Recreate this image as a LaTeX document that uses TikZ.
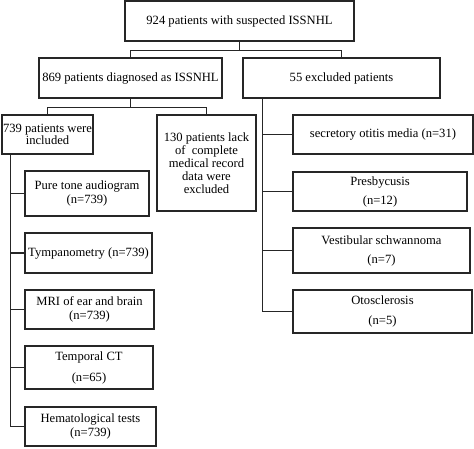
\documentclass[tikz,border=0pt]{standalone}
\usepackage{fontspec}
\setmainfont{Liberation Serif}
\usetikzlibrary{positioning}
\tikzset{
	font = {\fontsize{12.6pt}{14pt}\selectfont},
	box/.style = {rectangle, draw = black!85, line width = 1.4pt, text centered, align = center, inner sep = 1pt},
	line/.style = {draw = black!85, line width = 1.3pt}
}

\begin{document}
\begin{tikzpicture}[x = 1pt, y = -1pt]
	\useasboundingbox (0,0) rectangle (474,448);
	
	%%%%%%%% top part %%%%%%%%
	\node (suspected) [box, minimum width = 229pt, minimum height = 40pt] at (239.5,21) {924 patients with suspected ISSNHL};
	\node (diagnosed) [box, minimum width = 183pt, minimum height = 40pt] at (130.5,78) {869 patients diagnosed as ISSNHL};
	\node (excluded) [box, minimum width = 197pt, minimum height = 40pt] at (341.5,78) {55 excluded patients};
	
	%% diagnosed branch
	\node (included) [box, minimum width = 91pt, minimum height = 39pt] at (47.5,134.5) {739 patients were\\[-2pt] included};
	\node (lack) [box, minimum width = 99pt, minimum height = 96pt] at (206.5,163) {130 patients lack\\[-1pt] of\ \ complete\\[-1pt] medical record\\[-1pt] data were\\[-1pt] excluded};
	% examinations
	\node (puretone) [box, minimum width = 124pt, minimum height = 45pt] at (87,193.5) {Pure tone audiogram\\ (n=739)};
	\node (tympano) [box, minimum width = 127pt, minimum height = 40pt] at (88.5,253) {Tympanometry (n=739)};
	\node (mri) [box, minimum width = 129pt, minimum height = 39pt] at (89.5,309.5) {MRI of ear and brain\\ (n=739)};
	\node (ct) [box, minimum width = 128pt, minimum height = 43pt] at (89,367.5) {Temporal CT\\[7pt] (n=65)};
	\node (hemato) [box, minimum width = 131pt, minimum height = 39pt] at (90.5,426.5) {Hematological tests\\ (n=739)};
	
	%% excluded branch
	\node (otitis) [box, minimum width = 180pt, minimum height = 39pt] at (383,134.5) {secretory otitis media (n=31)};
	\node (presby) [box, minimum width = 174pt, minimum height = 39pt] at (380,191.5) {Presbycusis\\[5pt] (n=12)};
	\node (vestib) [box, minimum width = 177pt, minimum height = 45pt] at (381.5,250.5) {Vestibular schwannoma\\[5pt] (n=7)};
	\node (otoscl) [box, minimum width = 179pt, minimum height = 43pt] at (382.5,311.5) {Otosclerosis\\[6pt] (n=5)};
	
	%%% lines %%%
	\draw [line] (suspected.south) -- ++(0,9) coordinate (split1);
	\draw [line] (diagnosed.north) |- (split1) -| (excluded.north);
	\draw [line] (diagnosed.south) -- ++(0,9) coordinate (split2);
	\draw [line] (included.north) |- (split2) -| (lack.north);
	
	% left spine
	\draw [line] (included.south west) ++(9,0) coordinate (lspine) -- (lspine |- hemato.west) -- (hemato.west);
	\foreach \n in {puretone, tympano, mri, ct}
		\draw [line] (lspine |- \n.west) -- (\n.west);
	
	% right spine
	\draw [line] (excluded.south west) ++(20,0) coordinate (rspine) -- (rspine |- otoscl.west) -- (otoscl.west);
	\foreach \n in {otitis, presby, vestib}
		\draw [line] (rspine |- \n.west) -- (\n.west);
\end{tikzpicture}
\end{document}
